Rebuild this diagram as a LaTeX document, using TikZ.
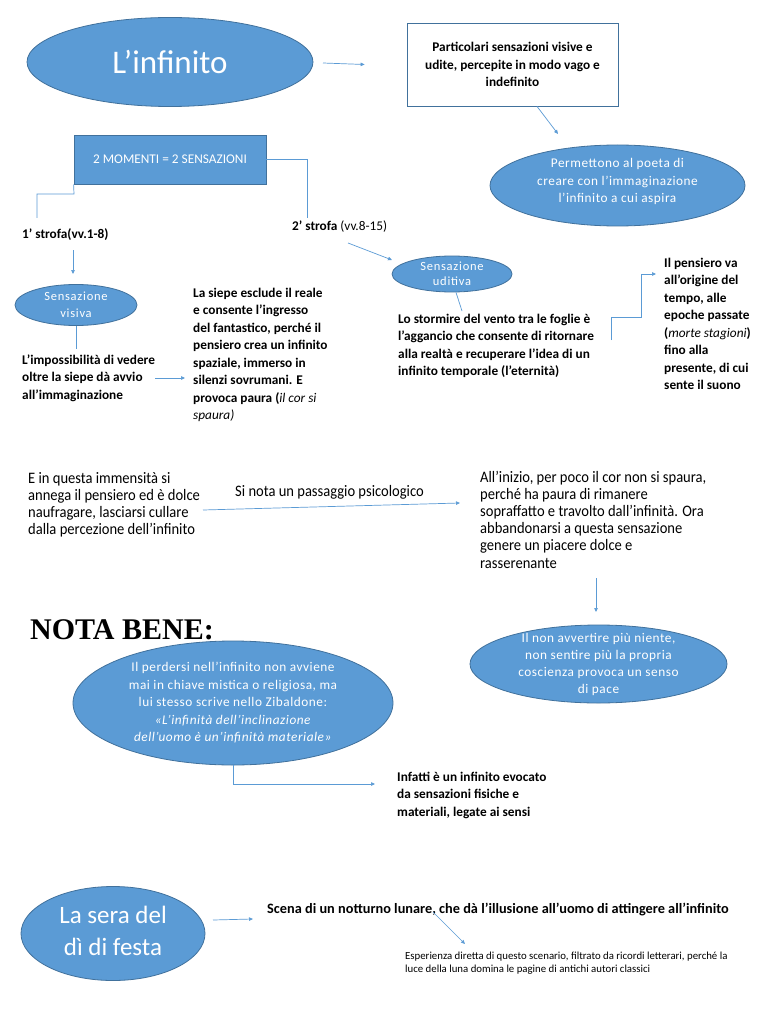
\documentclass[tikz,border=0pt]{standalone}
\usepackage{fontspec}
\setmainfont{Carlito}
\newfontfamily\condfont{Carlito}[FakeStretch=0.91]
\newfontfamily\nbfont{Liberation Serif}
\usetikzlibrary{shapes.geometric,arrows.meta}
\definecolor{cblue}{RGB}{91,155,213}
\definecolor{cborder}{RGB}{65,113,156}
\definecolor{cline}{RGB}{91,155,213}
\newcommand\normspaces{\spaceskip=0pt\relax\xspaceskip=0pt\relax}
\begin{document}
\begin{tikzpicture}[x=1pt,y=-1pt,
  ell/.style={ellipse, fill=cblue, draw=cborder, line width=0.8pt, inner sep=0pt},
  wt/.style={text=white, align=center, inner sep=0pt, font=\addfontfeature{LetterSpace=4}\fontsize{13.3}{17.5}\selectfont},
  bt/.style={anchor=base west, text width=#1, align=flush left, inner sep=0pt,
             execute at begin node=\normspaces, font=\bfseries\fontsize{13.3}{17.5}\selectfont},
  bt/.default=250,
  ct/.style={anchor=base west, text width=#1, align=flush left, inner sep=0pt,
             execute at begin node=\normspaces, font=\condfont\fontsize{16}{17.2}\selectfont},
  ct/.default=300,
  conn/.style={draw=cline, line width=0.7pt},
  arr/.style={conn, -{Triangle[length=4pt,width=3.5pt]}}
]
\useasboundingbox (0,0) rectangle (768,1024);
\fill[white] (0,0) rectangle (768,1024);

% ---- top: L'infinito
\node[ell, minimum width=286, minimum height=89] (title) at (170,62) {};
\node[text=white, inner sep=0pt, font=\fontsize{33}{40}\selectfont] (titletxt) at (title.center) {L’infinito};

\node[draw=cborder, line width=0.8pt, fill=white, minimum width=211, minimum height=83, inner sep=0pt,
      align=center, font=\bfseries\fontsize{13.3}{17.5}\selectfont] (box1) at (512.5,64.5)
  {Particolari sensazioni visive e\\udite, percepite in modo vago e\\indefinito};
\coordinate (a1s) at (323,63);
\draw[arr] (a1s) -- ([xshift=-42pt]box1.west);

\node[ell, minimum width=255, minimum height=81] (perm) at (617.5,185.5) {};
\node[wt] (permtxt) at ([yshift=4pt]perm.center) {Permettono al poeta di\\creare con l’immaginazione\\l’infinito a cui aspira};
\coordinate (a2e) at (558,134);
\draw[arr] ([xshift=24.5pt]box1.south) -- (a2e);

% ---- 2 momenti
\node[fill=cblue, draw=cborder, line width=0.8pt, minimum width=192, minimum height=49, inner sep=0pt,
      text=white, font=\fontsize{13.3}{17.5}\selectfont] (mom) at (170,159.5) {2 MOMENTI = 2 SENSAZIONI};
\coordinate (s1top) at (37,218);
\coordinate (s1mid) at (74,194);
\coordinate (s2top) at (307,218);
\draw[conn] (mom.south west) -- (s1mid) -| (s1top);
\draw[conn] (mom.east) -| (s2top);

\node[bt=200] (st1) at (22,238) {1’ strofa(vv.1-8)};
\node[bt=200] (st2) at (292,231) {2’ strofa \mdseries(vv.8-15)};

% ---- left: sensazione visiva
\coordinate (v1s) at (73,250);
\coordinate (v1e) at (73,274);
\draw[arr] (v1s) -- (v1e);
\node[ell, minimum width=122, minimum height=41] (vis) at (76,305) {};
\node[wt, font=\addfontfeature{LetterSpace=6}\fontsize{12.5}{17}\selectfont] (vistxt) at (vis.center) {Sensazione\\visiva};
\coordinate (vimp) at (76,349);
\draw[conn] (vis.south) -- (vimp);
\node[bt=200] (imp) at (22,364) {L’impossibilità di vedere\\oltre la siepe dà avvio\\all’immaginazione};
\coordinate (a3s) at (155,378);
\coordinate (a3e) at (185,378);
\draw[arr] (a3s) -- (a3e);
\node[bt=200] (siepe) at (193,297) {La siepe esclude il reale\\e consente l’ingresso\\del fantastico, perché il\\pensiero crea un infinito\\spaziale, immerso in\\silenzi sovrumani. E\\provoca paura (\textit{\mdseries il cor si}\\\textit{\mdseries spaura)}};

% ---- right: sensazione uditiva
\coordinate (a4s) at (348,243);
\coordinate (a4e) at (392,260);
\draw[arr] (a4s) -- (a4e);
\node[ell, minimum width=120, minimum height=36] (udi) at (452,274) {};
\node[wt, font=\addfontfeature{LetterSpace=6}\fontsize{12.5}{15}\selectfont] (uditxt) at (udi.center) {Sensazione\\uditiva};
\coordinate (u2) at (462,311);
\draw[conn] ([xshift=4pt]udi.south) -- (u2);
\node[bt=250] (storm) at (398,323) {Lo stormire del vento tra le foglie è\\l’aggancio che consente di ritornare\\alla realtà e recuperare l’idea di un\\infinito temporale (l’eternità)};
\coordinate (el1) at (611,340);
\coordinate (el2) at (641,317);
\coordinate (el3) at (656,274);
\draw[arr] (el1) |- (el2) |- (el3);
\node[bt=120] (pens) at (664,267) {Il pensiero va\\all’origine del\\tempo, alle\\epoche passate\\(\textit{\mdseries morte stagioni})\\fino alla\\presente, di cui\\sente il suono};

% ---- middle band
\node[ct=220] (imm) at (28,483) {E in questa immensità si\\annega il pensiero ed è dolce\\naufragare, lasciarsi cullare\\dalla percezione dell’infinito};
\node[ct=250] (snota) at (235,496) {Si nota un passaggio psicologico};
\coordinate (a5s) at (203,510);
\coordinate (a5e) at (460,503);
\draw[arr] (a5s) -- (a5e);
\node[ct=300] (inizio) at (480,482) {All’inizio, per poco il cor non si spaura,\\perché ha paura di rimanere\\sopraffatto e travolto dall’infinità. Ora\\abbandonarsi a questa sensazione\\genere un piacere dolce e\\rasserenante};
\coordinate (a6s) at (596,578);
\coordinate (a6e) at (596,612);
\draw[arr] (a6s) -- (a6e);
\node[ell, minimum width=257, minimum height=78] (pace) at (598.5,664) {};
\node[wt, font=\addfontfeature{LetterSpace=4}\fontsize{13.3}{17}\selectfont] (pacetxt) at (pace.center) {Il non avvertire più niente,\\non sentire più la propria\\coscienza provoca un senso\\di pace};

% ---- nota bene
\node[anchor=base west, inner sep=0pt, font=\nbfont\bfseries\fontsize{30}{32}\selectfont] (nota) at (30,639) {NOTA BENE:};
\node[ell, minimum width=320, minimum height=124] (perd) at (233,703) {};
\node[wt] (perdtxt) at (perd.center) {Il perdersi nell’infinito non avviene\\mai in chiave mistica o religiosa, ma\\lui stesso scrive nello Zibaldone:\\\textit{«L’infinità dell’inclinazione}\\\textit{dell’uomo è un’infinità materiale»}};
\coordinate (a7e) at (375,784);
\draw[arr] (perd.south) |- (a7e);
\node[bt=250] (inf) at (397,781) {Infatti è un infinito evocato\\da sensazioni fisiche e\\materiali, legate ai sensi};

% ---- la sera del di di festa
\node[ell, minimum width=184, minimum height=94] (sera) at (113,933.5) {};
\node[text=white, align=center, inner sep=0pt, font=\fontsize{25}{32}\selectfont] (seratxt) at ([yshift=3pt]sera.center) {La sera del\\dì di festa};
\coordinate (a8s) at (213,920);
\coordinate (a8e) at (253,919);
\draw[arr] (a8s) -- (a8e);
\node[anchor=base west, inner sep=0pt, font=\bfseries\fontsize{14.3}{17.5}\selectfont] (scena) at (267,913) {Scena di un notturno lunare, che dà l’illusione all’uomo di attingere all’infinito};
\coordinate (a9s) at (433,912);
\coordinate (a9e) at (465,944);
\draw[arr] (a9s) -- (a9e);
\node[anchor=base west, text width=380, align=flush left, inner sep=0pt, execute at begin node=\normspaces,
      font=\fontsize{10.8}{13}\selectfont] (esp) at (405,959) {Esperienza diretta di questo scenario, filtrato da ricordi letterari, perché la\\luce della luna domina le pagine di antichi autori classici};
\end{tikzpicture}
\end{document}
